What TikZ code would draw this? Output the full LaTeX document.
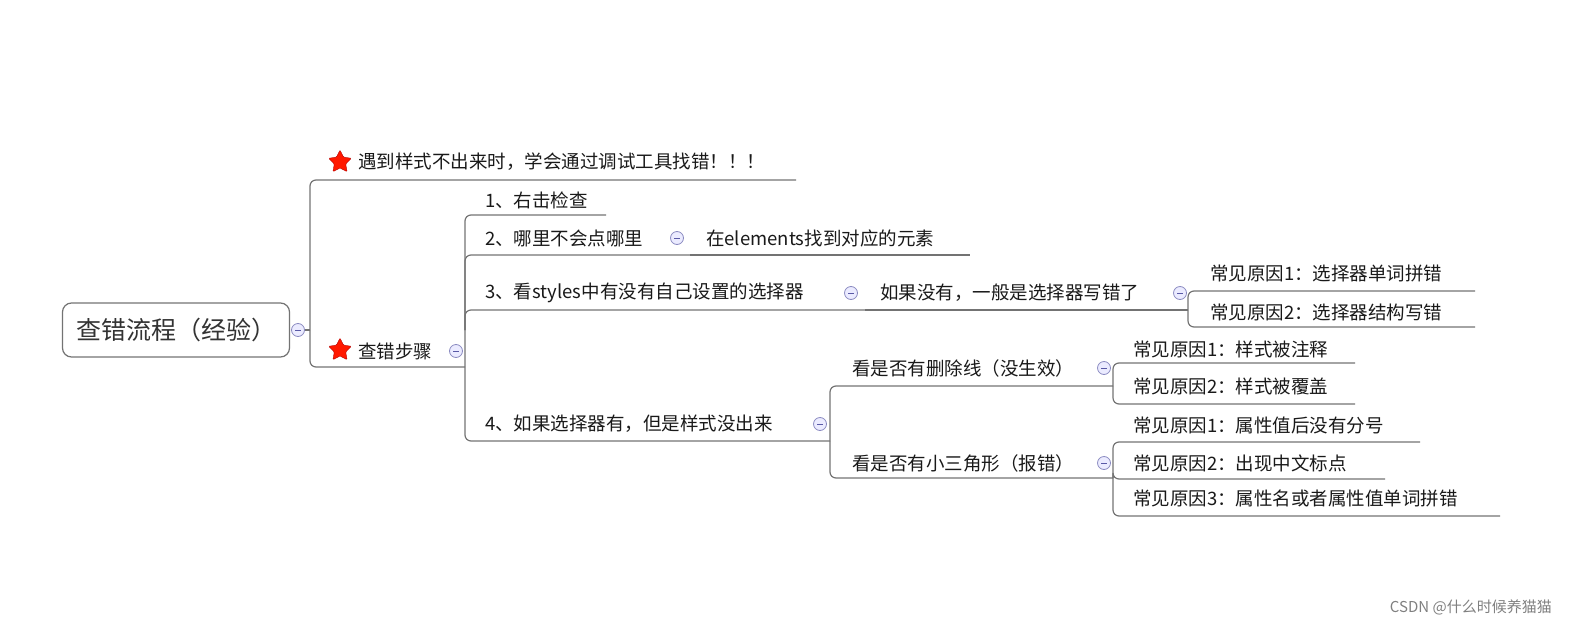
\documentclass[tikz,border=0pt]{standalone}
\usepackage{fontspec}
\setmainfont{Noto Sans CJK SC}
\usetikzlibrary{shapes.geometric}
\begin{document}
\begin{tikzpicture}[x=1pt,y=-1pt,
  lbl/.style={anchor=west,inner sep=0pt,font=\fontsize{18.5}{20}\selectfont,text=black!90},
  ln/.style={draw=black!55,line width=1.2pt,rounded corners=6pt},
  coll/.style={circle,draw=blue!30!gray!70,fill=blue!8,minimum size=13pt,inner sep=0pt,line width=0.8pt,
    path picture={\draw[blue!30!gray,line width=0.8pt](path picture bounding box.west)++(3.5pt,0)--++(6pt,0);}},
  starr/.style={star,star points=5,star point ratio=2.0,fill=red!80!orange,draw=red!70!black,line width=0.4pt,rounded corners=1pt,minimum size=24pt,inner sep=0pt}]
\useasboundingbox (0,0) rectangle (1588,632);
% root
\node[draw=black!55,line width=1.2pt,rounded corners=9pt,minimum width=227pt,minimum height=54pt,font=\fontsize{25}{28}\selectfont,text=black!80] (root) at (176,330) {查错流程（经验）};
\node[coll] (c0) at (298,330) {};
% level 1
\node[starr] (s1) at (340,162) {};
\node[lbl] (t1) at (358,162) {遇到样式不出来时，学会通过调试工具找错！！！};
\node[starr] (s2) at (340,350) {};
\node[lbl] (t2) at (358,351) {查错步骤};
\node[coll] (c2) at (456,351) {};
\coordinate (b1) at (310,330);
\draw[ln] (b1) |- (796,180);
\draw[ln] (b1) |- (465,367);
\draw[black!55,line width=1.2pt] (c0.east) -- (b1);
% level 2
\coordinate (b2) at (465,330);
\node[lbl] (a1) at (485,200) {1、右击检查};
\node[lbl] (a2) at (485,238) {2、哪里不会点哪里};
\node[coll] (ca2) at (677,238) {};
\node[lbl] (a2c) at (706,238) {在elements找到对应的元素};
\node[lbl] (a3) at (485,293) {3、看styles中有没有自己设置的选择器};
\node[coll] (ca3) at (851,293) {};
\node[lbl] (a3c) at (880,293) {如果没有，一般是选择器写错了};
\node[coll] (ca3c) at (1180,293) {};
\node[lbl] (a4) at (485,424) {4、如果选择器有，但是样式没出来};
\node[coll] (ca4) at (820,424) {};
\draw[ln] (b2) |- (606,215);
\draw[ln] (b2) |- (690,255);
\draw[ln] (690,255) -- (970,255);
\draw[ln] (b2) |- (865,310);
\draw[ln] (865,310) -- (1188,310);
\draw[ln] (b2) |- (830,441);
% reasons for 3
\coordinate (b3) at (1188,310);
\node[lbl] (r31) at (1210,273) {常见原因1：选择器单词拼错};
\node[lbl] (r32) at (1210,312) {常见原因2：选择器结构写错};
\draw[ln] (b3) |- (1475,291);
\draw[ln] (b3) |- (1475,327);
% level 3 for 4
\coordinate (b4) at (830,441);
\node[lbl] (d1) at (852,368) {看是否有删除线（没生效）};
\node[coll] (cd1) at (1104,368) {};
\node[lbl] (d2) at (852,463) {看是否有小三角形（报错）};
\node[coll] (cd2) at (1104,463) {};
\draw[ln] (b4) |- (1113,386);
\draw[ln] (b4) |- (1113,478);
\coordinate (b5) at (1113,386);
\node[lbl] (e1) at (1133,349) {常见原因1：样式被注释};
\node[lbl] (e2) at (1133,386) {常见原因2：样式被覆盖};
\draw[ln] (b5) |- (1355,363);
\draw[ln] (b5) |- (1355,404);
\coordinate (b6) at (1113,478);
\node[lbl] (f1) at (1133,425) {常见原因1：属性值后没有分号};
\node[lbl] (f2) at (1133,463) {常见原因2：出现中文标点};
\node[lbl] (f3) at (1133,498) {常见原因3：属性名或者属性值单词拼错};
\draw[ln] (b6) |- (1420,442);
\draw[ln] (b6) |- (1385,479);
\draw[ln] (b6) |- (1500,516);
% watermark
\node[anchor=east,inner sep=0pt,font=\fontsize{15}{16}\selectfont,text=black!50] (wm) at (1552,607) {CSDN @什么时候养猫猫};
\end{tikzpicture}
\end{document}
